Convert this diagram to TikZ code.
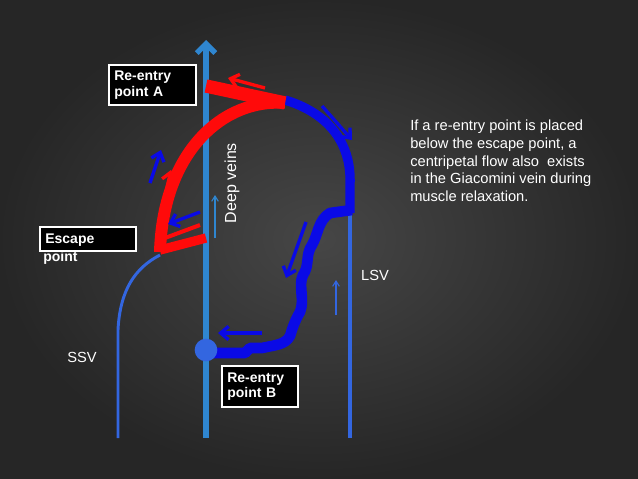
\documentclass[tikz,border=0pt]{standalone}
\usepackage{fontspec}
\setmainfont{Liberation Sans}
\usetikzlibrary{arrows.meta}
\definecolor{deep}{HTML}{2F86D0}
\definecolor{sv}{HTML}{3366E0}
\definecolor{bl}{HTML}{0A0AE6}
\definecolor{rd}{HTML}{FF0A0A}
\tikzset{
 lbl/.style={draw=white,line width=1.5pt,fill=black,text=white,font=\bfseries\fontsize{10.5}{11.5}\selectfont,align=left,inner xsep=4pt,inner ysep=2pt,anchor=north west},
 txt/.style={text=white,font=\fontsize{11}{13.2}\selectfont},
 barr/.style={bl,line width=2.5pt,-{Straight Barb[length=6pt,width=10pt]}},
 rarr/.style={rd,line width=2.5pt,-{Straight Barb[length=6pt,width=10pt]}},
 thin/.style={line width=0.8pt,-{Straight Barb[length=4pt,width=5pt]}}
}
\begin{document}
\begin{tikzpicture}[x=0.75pt,y=-0.75pt]
\path[inner color=gray!55!black,outer color=black!85] (0,0) rectangle (638,478);
\useasboundingbox (0,0) rectangle (638,478);
% deep vein
\coordinate (dtop) at (206,40);
\draw[deep,line width=4pt,-{Straight Barb[length=7pt,width=14pt]}] (206,438) -- (dtop);
% LSV
\draw[sv,line width=3pt] (350,438) -- (350,210);
% SSV
\draw[sv,line width=2.2pt] (118,438) -- (118,330) .. controls (120,290) and (135,268) .. (160,255);
% blue arc
\draw[bl,line width=7pt] (285,100) .. controls (325,112) and (352,140) .. (350,185) -- (350,213);
\draw[bl,line width=8pt,line join=round] (352,210) -- (330,213) .. controls (318,220) and (318,235) .. (312,245)
  .. controls (305,255) and (310,265) .. (303,275) .. controls (298,285) and (305,300) .. (300,312)
  .. controls (294,322) and (292,330) .. (290,336) .. controls (285,345) and (275,345) .. (262,348)
  -- (250,348) -- (245,353) -- (206,353);
\node[circle,fill=sv,minimum size=17pt,inner sep=0] (B) at (206,350) {};
% red
\draw[rd,line width=10pt] (206,86) -- (285,103);
\draw[rd,line width=9pt] (285,103) .. controls (225,98) and (163,150) .. (160,252);
\draw[rd,line width=7pt] (160,250) -- (206,238);
\draw[rd,line width=3pt] (165,238) -- (200,225);
% arrows
\draw[rarr] (265,88) -- (228,78);
\draw[barr] (322,106) -- (352,140);
\draw[barr] (150,183) -- (161,150);
\draw[rarr] (163,205) -- (171,170);
\draw[barr] (200,212) -- (168,224);
\draw[barr] (306,222) -- (286,278);
\draw[barr] (262,333) -- (218,333);
\draw[deep,thin] (215,238) -- (215,195);
\draw[sv,thin] (336,315) -- (336,280);
% labels
\node[lbl,text width=76pt*0.75,minimum height=40pt*0.75] (A) at (108,64) {Re-entry\\point A};
\node[lbl,text width=85pt*0.75,minimum height=24pt*0.75,text height=9pt] (E) at (39,226) {Escape};
\node[txt,font=\bfseries\fontsize{10.5}{11.5}\selectfont,anchor=north west,inner sep=0] (E2) at (43,251) {point};
\node[lbl,text width=65pt*0.75,minimum height=41pt*0.75] (RB) at (221,365) {Re-entry\\point B};
\node[txt,rotate=90,font=\fontsize{12}{14}\selectfont] (dv) at (232,183) {Deep veins};
\node[txt] (lsv) at (375,275) {LSV};
\node[txt] (ssv) at (82,357) {SSV};
\node[txt,anchor=north west,align=left,inner sep=0] (p) at (410,120) {If a re-entry point is placed\\below the escape point, a\\centripetal flow also\ \ exists\\in the Giacomini vein during\\muscle relaxation.};
\end{tikzpicture}
\end{document}
